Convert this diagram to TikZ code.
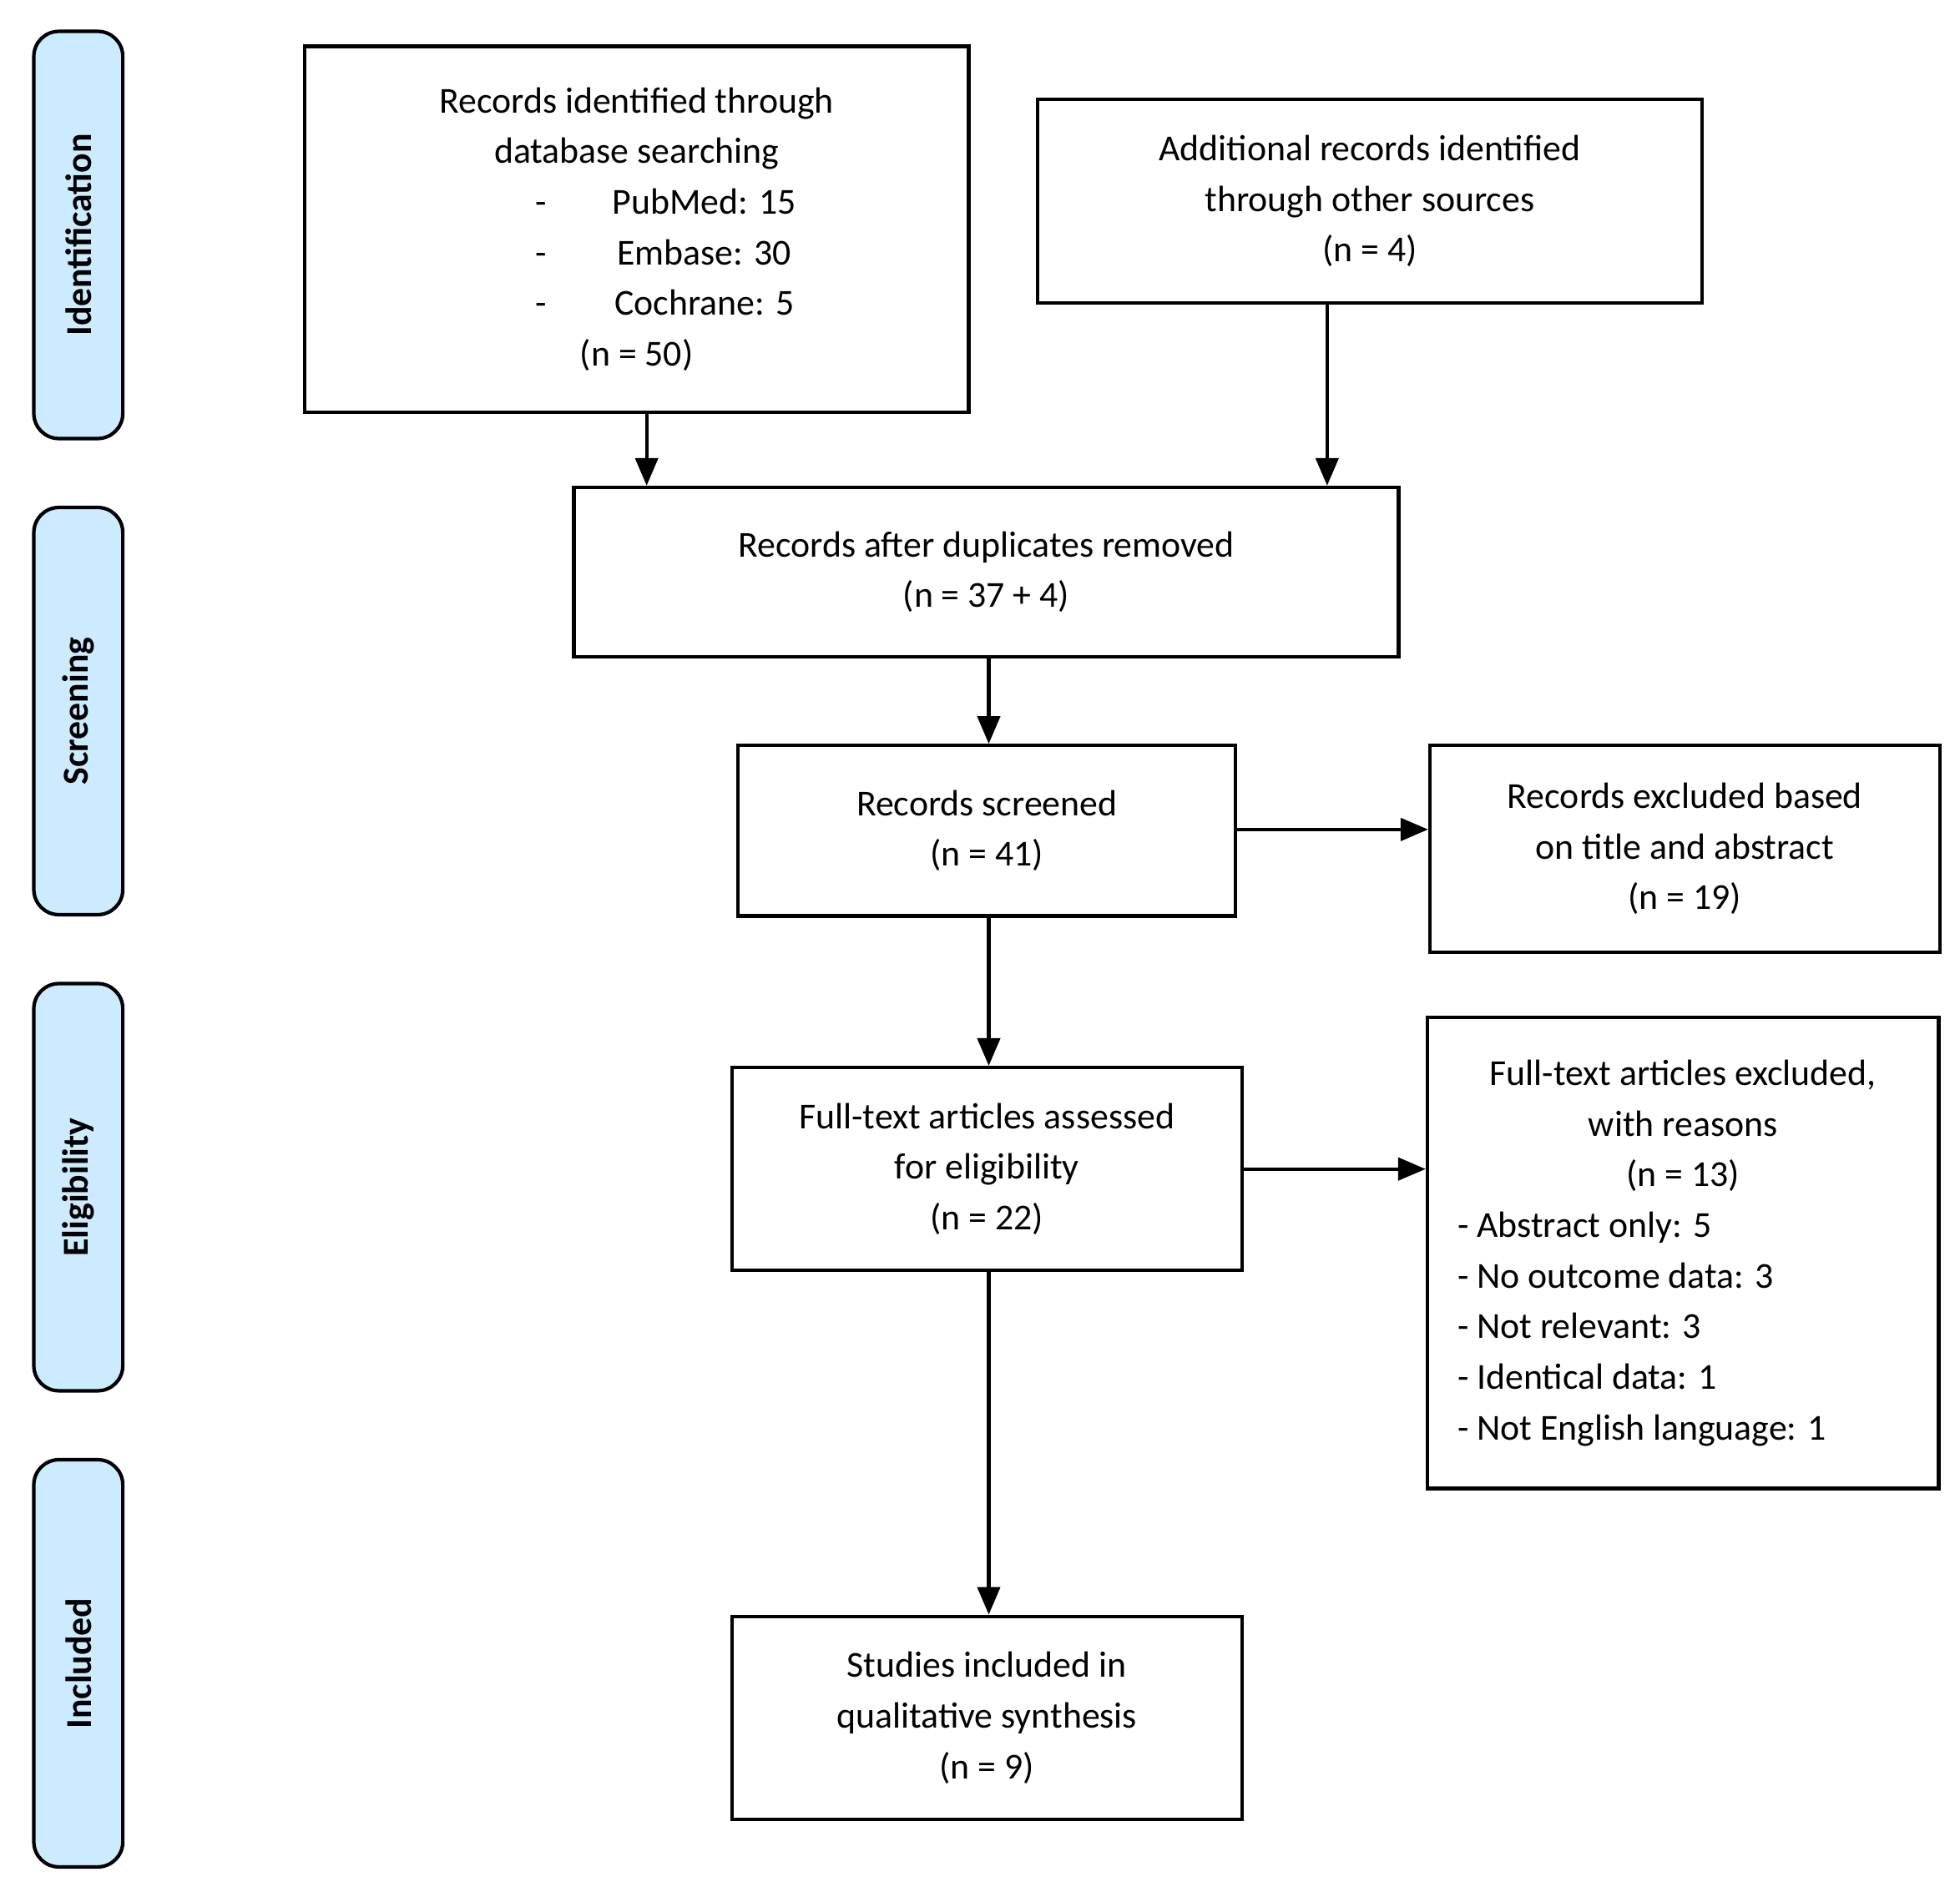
\documentclass[tikz,border=0pt]{standalone}
\usepackage{fontspec}
\setmainfont{Carlito}
\usetikzlibrary{arrows.meta, positioning}
\definecolor{stagefill}{HTML}{CCEBFF}

\begin{document}
\begin{tikzpicture}[>={Triangle[length=2.2mm, width=1.8mm]}, line width=0.8pt,
    box/.style={draw, align=center, inner sep=0pt, font=\fontsize{8.3}{11.5}\selectfont},
    stage/.style={draw, fill=stagefill, rounded corners=2mm, minimum width=0.71cm, minimum height=3.25cm,
        inner sep=0pt, font=\fontsize{8.3}{10}\selectfont\bfseries}]
    \useasboundingbox (0,0) rectangle (15.64,-15.06);
    % stages
    \node[stage] (sid) at (0.625,-1.875) {\rotatebox{90}{Identification}};
    \node[stage] (sscr) at (0.625,-5.675) {\rotatebox{90}{Screening}};
    \node[stage] (selig) at (0.625,-9.475) {\rotatebox{90}{Eligibility}};
    \node[stage] (sinc) at (0.625,-13.275) {\rotatebox{90}{Included}};
    % boxes
    \node[box, minimum width=5.3cm, minimum height=2.92cm] (dbsearch) at (5.08,-1.83)
        {Records identified through\\database searching\\
         \makebox[1.62cm][l]{\makebox[0.55cm][l]{-}\makebox[1.6cm]{PubMed: 15}}\\
         \makebox[1.62cm][l]{\makebox[0.55cm][l]{-}\makebox[1.6cm]{Embase: 30}}\\
         \makebox[1.62cm][l]{\makebox[0.55cm][l]{-}\makebox[1.6cm]{Cochrane: 5}}\\
         (n = 50)};
    \node[box, minimum width=5.3cm, minimum height=1.63cm] (other) at (10.93,-1.605)
        {Additional records identified\\through other sources\\(n = 4)};
    \node[box, minimum width=6.58cm, minimum height=1.35cm] (dupl) at (7.87,-4.565)
        {Records after duplicates removed\\(n = 37 + 4)};
    \node[box, minimum width=3.97cm, minimum height=1.36cm] (screened) at (7.875,-6.63)
        {Records screened\\(n = 41)};
    \node[box, minimum width=4.07cm, minimum height=1.65cm] (excltitle) at (13.445,-6.775)
        {Records excluded based\\on title and abstract\\(n = 19)};
    \node[box, minimum width=4.07cm, minimum height=1.62cm] (fulltext) at (7.875,-9.33)
        {Full-text articles assessed\\for eligibility\\(n = 22)};
    \node[box, minimum width=4.08cm, minimum height=3.76cm] (exclfull) at (13.43,-10.0)
        {Full-text articles excluded,\\with reasons\\(n = 13)\\
         \makebox[3.6cm][l]{- Abstract only: 5}\\
         \makebox[3.6cm][l]{- No outcome data: 3}\\
         \makebox[3.6cm][l]{- Not relevant: 3}\\
         \makebox[3.6cm][l]{- Identical data: 1}\\
         \makebox[3.6cm][l]{- Not English language: 1}};
    \node[box, minimum width=4.07cm, minimum height=1.62cm] (included) at (7.875,-13.71)
        {Studies included in\\qualitative synthesis\\(n = 9)};
    % arrows
    \draw[->] (dbsearch.south -| 5.16,0) -- (dupl.north -| 5.16,0);
    \draw[->] (other.south -| 10.59,0) -- (dupl.north -| 10.59,0);
    \draw[->] (dupl.south -| 7.89,0) -- (screened.north -| 7.89,0);
    \draw[->] (screened.east |- 0,-6.62) -- (excltitle.west |- 0,-6.62);
    \draw[->] (screened.south -| 7.89,0) -- (fulltext.north -| 7.89,0);
    \draw[->] (fulltext.east |- 0,-9.33) -- (exclfull.west |- 0,-9.33);
    \draw[->] (fulltext.south -| 7.89,0) -- (included.north -| 7.89,0);
\end{tikzpicture}
\end{document}
